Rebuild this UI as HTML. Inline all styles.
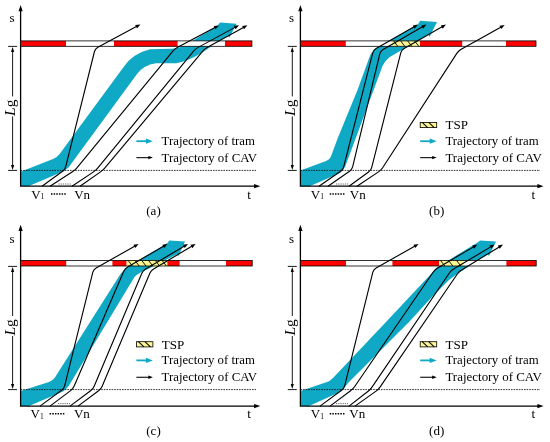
<!DOCTYPE html>
<html><head><meta charset="utf-8"><title>Figure</title>
<style>
html,body{margin:0;padding:0;background:#fff;}
svg{display:block;font-family:"Liberation Serif",serif;}
</style></head><body>
<svg width="550" height="442" viewBox="0 0 550 442">
<rect width="550" height="442" fill="#fff"/>
<path d="M20.6,171.7 L53,159 Q57,157.5 60,153.5 L124,66.5 Q133,53.5 150,49.3 L172,48.8 Q180,48.2 188,43.5 L217.5,25.8 L220,22.4 L236.6,23.8 L229.4,37.6 L227.6,35.6 L203,52 Q189,61 176,63.3 L156,63.2 Q143.5,65 137,74 L68.5,167.5 Q66.5,169.5 63,171.5 L29,186 L20.6,186 Z" fill="#10A9C5" stroke="none"/>
<path d="M20.60,8.00 L20.60,186.20 L257.30,186.20" fill="none" stroke="#000" stroke-width="1.3"/>
<polygon points="20.60,5.00 22.70,11.20 18.50,11.20" fill="#000"/>
<polygon points="260.30,186.20 254.10,188.30 254.10,184.10" fill="#000"/>
<rect x="20.60" y="40.90" width="231.30" height="5.40" fill="#fff" stroke="none"/>
<rect x="20.60" y="40.90" width="45.40" height="5.40" fill="#FF0000"/>
<rect x="114.00" y="40.90" width="63.60" height="5.40" fill="#FF0000"/>
<rect x="225.00" y="40.90" width="26.90" height="5.40" fill="#FF0000"/>
<rect x="20.60" y="40.90" width="231.30" height="5.40" fill="none" stroke="#000" stroke-width="0.8"/>
<line x1="20.60" y1="170.40" x2="256.00" y2="170.40" stroke="#000" stroke-width="0.8" stroke-dasharray="1.6,1"/>
<line x1="8.10" y1="46.40" x2="17.10" y2="46.40" stroke="#000" stroke-width="0.9"/>
<line x1="8.10" y1="170.40" x2="17.10" y2="170.40" stroke="#000" stroke-width="0.9"/>
<line x1="12.60" y1="49.40" x2="12.60" y2="96.40" stroke="#000" stroke-width="0.9"/>
<line x1="12.60" y1="116.40" x2="12.60" y2="167.40" stroke="#000" stroke-width="0.9"/>
<polygon points="12.60,46.90 14.20,51.90 11.00,51.90" fill="#000"/>
<polygon points="12.60,169.90 11.00,164.90 14.20,164.90" fill="#000"/>
<text transform="translate(15.10,107.80) rotate(-90)" font-size="15.5" text-anchor="middle"><tspan font-style="italic">L</tspan>g</text>
<path d="M42.00,186.20 L62.57,171.26 Q65.00,169.50 65.73,166.59 L94.47,51.51 Q95.20,48.60 97.84,47.18 L137.76,25.82" fill="none" stroke="#000" stroke-width="1.12" stroke-linejoin="round"/>
<polygon points="140.40,24.40 136.98,28.39 135.18,25.04" fill="#000"/>
<path d="M50.00,186.20 L72.47,171.82 Q75.00,170.20 76.91,167.88 L173.09,50.92 Q175.00,48.60 177.65,47.20 L216.35,26.80" fill="none" stroke="#000" stroke-width="1.12" stroke-linejoin="round"/>
<polygon points="219.00,25.40 215.55,29.37 213.78,26.00" fill="#000"/>
<path d="M72.00,186.20 L93.50,171.86 Q96.00,170.20 97.90,167.88 L193.60,51.12 Q195.50,48.80 198.14,47.37 L236.36,26.63" fill="none" stroke="#000" stroke-width="1.12" stroke-linejoin="round"/>
<polygon points="239.00,25.20 235.60,29.21 233.79,25.87" fill="#000"/>
<path d="M80.00,186.20 L100.54,171.91 Q103.00,170.20 104.93,167.90 L202.57,51.30 Q204.50,49.00 207.12,47.54 L244.78,26.66" fill="none" stroke="#000" stroke-width="1.12" stroke-linejoin="round"/>
<polygon points="247.40,25.20 244.04,29.24 242.19,25.92" fill="#000"/>
<text x="12.00" y="22.30" font-size="13" text-anchor="middle">s</text>
<text x="249.00" y="198.80" font-size="13" text-anchor="middle">t</text>
<text x="31.20" y="198.60" font-size="13">V<tspan font-size="7.5" dy="0.5">1</tspan></text>
<line x1="51.00" y1="194.00" x2="65.80" y2="194.00" stroke="#000" stroke-width="1.4" stroke-dasharray="1.5,1.15"/>
<text x="74.20" y="198.60" font-size="13">Vn</text>
<line x1="58.50" y1="184.00" x2="71.00" y2="184.00" stroke="#444" stroke-width="0.8" stroke-dasharray="1.2,1"/>
<line x1="136.40" y1="141.20" x2="146.40" y2="141.20" stroke="#10A9C5" stroke-width="1.8"/>
<polygon points="152.90,141.20 145.90,143.80 145.90,138.60" fill="#10A9C5"/>
<text x="161.60" y="144.50" font-size="13" text-anchor="start" textLength="93.30" lengthAdjust="spacingAndGlyphs">Trajectory of tram</text>
<line x1="136.40" y1="157.60" x2="149.40" y2="157.60" stroke="#222" stroke-width="1.25"/>
<polygon points="152.90,157.60 148.40,159.30 148.40,155.90" fill="#000"/>
<text x="161.60" y="161.70" font-size="13" text-anchor="start" textLength="95.50" lengthAdjust="spacingAndGlyphs">Trajectory of CAV</text>
<text x="153.50" y="215.20" font-size="13" text-anchor="middle">(a)</text>
<path d="M300.4,170.6 L326,161 Q330,159.5 331.3,155.5 L337.8,138 L357.5,90 L369.5,57 Q371.5,51 378,47 L417.5,25 L420.2,20.8 L437,22 L429.5,37 L428.3,34.6 L394,54.5 Q386,58.5 382.5,66 L346.5,163 Q344.5,170 339,173.5 L309,186.4 L300.4,186.4 Z" fill="#10A9C5" stroke="none"/>
<path d="M300.40,8.00 L300.40,186.20 L540.60,186.20" fill="none" stroke="#000" stroke-width="1.3"/>
<polygon points="300.40,5.00 302.50,11.20 298.30,11.20" fill="#000"/>
<polygon points="543.60,186.20 537.40,188.30 537.40,184.10" fill="#000"/>
<rect x="300.40" y="40.90" width="235.60" height="5.40" fill="#fff" stroke="none"/>
<rect x="300.40" y="40.90" width="45.40" height="5.40" fill="#FF0000"/>
<rect x="392.00" y="40.90" width="28.00" height="5.40" fill="#FBF593"/>
<line x1="393.60" y1="40.90" x2="397.80" y2="46.30" stroke="#000" stroke-width="0.9"/>
<line x1="400.60" y1="40.90" x2="404.80" y2="46.30" stroke="#000" stroke-width="0.9"/>
<line x1="407.60" y1="40.90" x2="411.80" y2="46.30" stroke="#000" stroke-width="0.9"/>
<line x1="414.60" y1="40.90" x2="418.80" y2="46.30" stroke="#000" stroke-width="0.9"/>
<rect x="420.00" y="40.90" width="42.20" height="5.40" fill="#FF0000"/>
<rect x="506.00" y="40.90" width="30.00" height="5.40" fill="#FF0000"/>
<rect x="300.40" y="40.90" width="235.60" height="5.40" fill="none" stroke="#000" stroke-width="0.8"/>
<line x1="300.40" y1="170.40" x2="540.00" y2="170.40" stroke="#000" stroke-width="0.8" stroke-dasharray="1.6,1"/>
<line x1="287.80" y1="46.40" x2="296.80" y2="46.40" stroke="#000" stroke-width="0.9"/>
<line x1="287.80" y1="170.40" x2="296.80" y2="170.40" stroke="#000" stroke-width="0.9"/>
<line x1="292.30" y1="49.40" x2="292.30" y2="96.40" stroke="#000" stroke-width="0.9"/>
<line x1="292.30" y1="116.40" x2="292.30" y2="167.40" stroke="#000" stroke-width="0.9"/>
<polygon points="292.30,46.90 293.90,51.90 290.70,51.90" fill="#000"/>
<polygon points="292.30,169.90 290.70,164.90 293.90,164.90" fill="#000"/>
<text transform="translate(294.80,107.80) rotate(-90)" font-size="15.5" text-anchor="middle"><tspan font-style="italic">L</tspan>g</text>
<path d="M319.00,186.20 L340.54,171.21 Q343.00,169.50 343.74,166.59 L372.76,52.91 Q373.50,50.00 376.11,48.51 L415.39,26.09" fill="none" stroke="#000" stroke-width="1.12" stroke-linejoin="round"/>
<polygon points="418.00,24.60 414.69,28.68 412.80,25.38" fill="#000"/>
<path d="M328.00,186.20 L349.54,171.21 Q352.00,169.50 352.70,166.58 L379.80,53.92 Q380.50,51.00 383.10,49.50 L423.80,26.10" fill="none" stroke="#000" stroke-width="1.12" stroke-linejoin="round"/>
<polygon points="426.40,24.60 423.10,28.69 421.21,25.40" fill="#000"/>
<path d="M349.00,186.20 L368.57,171.96 Q371.00,170.20 371.74,167.29 L400.76,52.91 Q401.50,50.00 404.11,48.51 L443.39,26.09" fill="none" stroke="#000" stroke-width="1.12" stroke-linejoin="round"/>
<polygon points="446.00,24.60 442.69,28.68 440.80,25.38" fill="#000"/>
<path d="M357.00,186.20 L378.50,171.86 Q381.00,170.20 382.63,167.68 L456.97,53.12 Q458.60,50.60 461.22,49.14 L502.08,26.46" fill="none" stroke="#000" stroke-width="1.12" stroke-linejoin="round"/>
<polygon points="504.70,25.00 501.34,29.04 499.49,25.72" fill="#000"/>
<text x="291.50" y="22.30" font-size="13" text-anchor="middle">s</text>
<text x="533.40" y="198.80" font-size="13" text-anchor="middle">t</text>
<text x="310.80" y="198.60" font-size="13">V<tspan font-size="7.5" dy="0.5">1</tspan></text>
<line x1="329.70" y1="194.00" x2="344.50" y2="194.00" stroke="#000" stroke-width="1.4" stroke-dasharray="1.5,1.15"/>
<text x="349.80" y="198.60" font-size="13">Vn</text>
<line x1="336.00" y1="184.00" x2="349.00" y2="184.00" stroke="#444" stroke-width="0.8" stroke-dasharray="1.2,1"/>
<rect x="420.20" y="122.40" width="16.5" height="5.2" fill="#FBF593" stroke="#000" stroke-width="0.8"/>
<line x1="422.20" y1="122.40" x2="427.70" y2="127.60" stroke="#000" stroke-width="1.05"/>
<line x1="428.70" y1="122.40" x2="434.20" y2="127.60" stroke="#000" stroke-width="1.05"/>
<text x="445.60" y="129.20" font-size="13" text-anchor="start" textLength="22.40" lengthAdjust="spacingAndGlyphs">TSP</text>
<line x1="420.20" y1="141.20" x2="430.20" y2="141.20" stroke="#10A9C5" stroke-width="1.8"/>
<polygon points="436.70,141.20 429.70,143.80 429.70,138.60" fill="#10A9C5"/>
<text x="445.40" y="144.50" font-size="13" text-anchor="start" textLength="93.30" lengthAdjust="spacingAndGlyphs">Trajectory of tram</text>
<line x1="420.20" y1="157.60" x2="433.20" y2="157.60" stroke="#222" stroke-width="1.25"/>
<polygon points="436.70,157.60 432.20,159.30 432.20,155.90" fill="#000"/>
<text x="445.40" y="161.70" font-size="13" text-anchor="start" textLength="96.50" lengthAdjust="spacingAndGlyphs">Trajectory of CAV</text>
<text x="436.70" y="215.20" font-size="13" text-anchor="middle">(b)</text>
<path d="M20.6,391 L49,382 Q54,380 56.5,375 L120.5,274 Q124,269.5 129,266 L167.5,243 L169.2,240.4 L185,241.5 L178.4,256 L177,254.3 L147,269.5 Q138,273 134.5,277 L69,385.5 Q67,388.5 63,391.5 L29,406.1 L20.6,406.1 Z" fill="#10A9C5" stroke="none"/>
<path d="M20.60,227.80 L20.60,406.10 L257.30,406.10" fill="none" stroke="#000" stroke-width="1.3"/>
<polygon points="20.60,224.80 22.70,231.00 18.50,231.00" fill="#000"/>
<polygon points="260.30,406.10 254.10,408.20 254.10,404.00" fill="#000"/>
<rect x="20.60" y="260.50" width="231.60" height="5.50" fill="#fff" stroke="none"/>
<rect x="20.60" y="260.50" width="45.60" height="5.50" fill="#FF0000"/>
<rect x="112.40" y="260.50" width="14.20" height="5.50" fill="#FF0000"/>
<rect x="126.60" y="260.50" width="40.80" height="5.50" fill="#FBF593"/>
<line x1="128.20" y1="260.50" x2="132.40" y2="266.00" stroke="#000" stroke-width="0.9"/>
<line x1="135.00" y1="260.50" x2="139.20" y2="266.00" stroke="#000" stroke-width="0.9"/>
<line x1="141.80" y1="260.50" x2="146.00" y2="266.00" stroke="#000" stroke-width="0.9"/>
<line x1="148.60" y1="260.50" x2="152.80" y2="266.00" stroke="#000" stroke-width="0.9"/>
<line x1="155.40" y1="260.50" x2="159.60" y2="266.00" stroke="#000" stroke-width="0.9"/>
<line x1="162.20" y1="260.50" x2="166.40" y2="266.00" stroke="#000" stroke-width="0.9"/>
<rect x="167.40" y="260.50" width="12.20" height="5.50" fill="#FF0000"/>
<rect x="226.00" y="260.50" width="26.20" height="5.50" fill="#FF0000"/>
<rect x="20.60" y="260.50" width="231.60" height="5.50" fill="none" stroke="#000" stroke-width="0.8"/>
<line x1="20.60" y1="389.60" x2="256.00" y2="389.60" stroke="#000" stroke-width="0.8" stroke-dasharray="1.6,1"/>
<line x1="8.10" y1="266.40" x2="17.10" y2="266.40" stroke="#000" stroke-width="0.9"/>
<line x1="8.10" y1="389.60" x2="17.10" y2="389.60" stroke="#000" stroke-width="0.9"/>
<line x1="12.60" y1="269.40" x2="12.60" y2="316.00" stroke="#000" stroke-width="0.9"/>
<line x1="12.60" y1="336.00" x2="12.60" y2="386.60" stroke="#000" stroke-width="0.9"/>
<polygon points="12.60,266.90 14.20,271.90 11.00,271.90" fill="#000"/>
<polygon points="12.60,389.10 11.00,384.10 14.20,384.10" fill="#000"/>
<text transform="translate(15.10,327.40) rotate(-90)" font-size="15.5" text-anchor="middle"><tspan font-style="italic">L</tspan>g</text>
<path d="M40.00,406.10 L61.58,390.27 Q64.00,388.50 64.72,385.59 L92.78,272.41 Q93.50,269.50 96.11,268.02 L135.99,245.48" fill="none" stroke="#000" stroke-width="1.12" stroke-linejoin="round"/>
<polygon points="138.60,244.00 135.27,248.07 133.40,244.76" fill="#000"/>
<path d="M50.00,406.10 L70.60,390.60 Q73.00,388.80 74.19,386.05 L123.81,271.25 Q125.00,268.50 127.60,267.00 L164.90,245.50" fill="none" stroke="#000" stroke-width="1.12" stroke-linejoin="round"/>
<polygon points="167.50,244.00 164.20,248.09 162.31,244.80" fill="#000"/>
<path d="M70.00,406.10 L90.59,390.79 Q93.00,389.00 94.17,386.24 L141.83,273.26 Q143.00,270.50 145.59,268.98 L185.41,245.52" fill="none" stroke="#000" stroke-width="1.12" stroke-linejoin="round"/>
<polygon points="188.00,244.00 184.74,248.12 182.81,244.85" fill="#000"/>
<path d="M78.00,406.10 L98.59,390.79 Q101.00,389.00 102.17,386.24 L149.83,273.26 Q151.00,270.50 153.58,268.97 L193.02,245.53" fill="none" stroke="#000" stroke-width="1.12" stroke-linejoin="round"/>
<polygon points="195.60,244.00 192.36,248.14 190.42,244.87" fill="#000"/>
<text x="12.00" y="243.00" font-size="13" text-anchor="middle">s</text>
<text x="249.00" y="418.30" font-size="13" text-anchor="middle">t</text>
<text x="30.60" y="418.30" font-size="13">V<tspan font-size="7.5" dy="0.5">1</tspan></text>
<line x1="49.60" y1="413.70" x2="64.40" y2="413.70" stroke="#000" stroke-width="1.4" stroke-dasharray="1.5,1.15"/>
<text x="73.90" y="418.30" font-size="13">Vn</text>
<line x1="58.00" y1="403.60" x2="70.00" y2="403.60" stroke="#444" stroke-width="0.8" stroke-dasharray="1.2,1"/>
<rect x="136.40" y="341.70" width="16.5" height="5.2" fill="#FBF593" stroke="#000" stroke-width="0.8"/>
<line x1="138.40" y1="341.70" x2="143.90" y2="346.90" stroke="#000" stroke-width="1.05"/>
<line x1="144.90" y1="341.70" x2="150.40" y2="346.90" stroke="#000" stroke-width="1.05"/>
<text x="161.80" y="348.50" font-size="13" text-anchor="start" textLength="22.40" lengthAdjust="spacingAndGlyphs">TSP</text>
<line x1="136.40" y1="360.40" x2="146.40" y2="360.40" stroke="#10A9C5" stroke-width="1.8"/>
<polygon points="152.90,360.40 145.90,363.00 145.90,357.80" fill="#10A9C5"/>
<text x="161.60" y="363.70" font-size="13" text-anchor="start" textLength="93.30" lengthAdjust="spacingAndGlyphs">Trajectory of tram</text>
<line x1="136.40" y1="377.30" x2="149.40" y2="377.30" stroke="#222" stroke-width="1.25"/>
<polygon points="152.90,377.30 148.40,379.00 148.40,375.60" fill="#000"/>
<text x="161.60" y="381.40" font-size="13" text-anchor="start" textLength="95.50" lengthAdjust="spacingAndGlyphs">Trajectory of CAV</text>
<text x="153.50" y="435.00" font-size="13" text-anchor="middle">(c)</text>
<path d="M300.4,391 L327,382 Q330,381 333,378 L386,322 L430.5,274.5 L437,267.5 L455,256.2 L478,242.2 L480.1,240.4 L496,241.6 L489,256 L487.6,254 L461,271.5 Q455,275 449,280 L431,298 L409.5,321.5 L390.5,340.5 L348,383 Q344.5,388.5 340,392 L309,406.1 L300.4,406.1 Z" fill="#10A9C5" stroke="none"/>
<path d="M300.40,227.80 L300.40,406.10 L540.60,406.10" fill="none" stroke="#000" stroke-width="1.3"/>
<polygon points="300.40,224.80 302.50,231.00 298.30,231.00" fill="#000"/>
<polygon points="543.60,406.10 537.40,408.20 537.40,404.00" fill="#000"/>
<rect x="300.40" y="260.50" width="235.80" height="5.50" fill="#fff" stroke="none"/>
<rect x="300.40" y="260.50" width="45.60" height="5.50" fill="#FF0000"/>
<rect x="392.40" y="260.50" width="46.60" height="5.50" fill="#FF0000"/>
<rect x="439.00" y="260.50" width="24.00" height="5.50" fill="#FBF593"/>
<line x1="440.60" y1="260.50" x2="444.80" y2="266.00" stroke="#000" stroke-width="0.9"/>
<line x1="448.60" y1="260.50" x2="452.80" y2="266.00" stroke="#000" stroke-width="0.9"/>
<line x1="456.60" y1="260.50" x2="460.80" y2="266.00" stroke="#000" stroke-width="0.9"/>
<rect x="506.40" y="260.50" width="29.80" height="5.50" fill="#FF0000"/>
<rect x="300.40" y="260.50" width="235.80" height="5.50" fill="none" stroke="#000" stroke-width="0.8"/>
<line x1="300.40" y1="389.60" x2="540.00" y2="389.60" stroke="#000" stroke-width="0.8" stroke-dasharray="1.6,1"/>
<line x1="287.80" y1="266.40" x2="296.80" y2="266.40" stroke="#000" stroke-width="0.9"/>
<line x1="287.80" y1="389.60" x2="296.80" y2="389.60" stroke="#000" stroke-width="0.9"/>
<line x1="292.30" y1="269.40" x2="292.30" y2="316.00" stroke="#000" stroke-width="0.9"/>
<line x1="292.30" y1="336.00" x2="292.30" y2="386.60" stroke="#000" stroke-width="0.9"/>
<polygon points="292.30,266.90 293.90,271.90 290.70,271.90" fill="#000"/>
<polygon points="292.30,389.10 290.70,384.10 293.90,384.10" fill="#000"/>
<text transform="translate(294.80,327.40) rotate(-90)" font-size="15.5" text-anchor="middle"><tspan font-style="italic">L</tspan>g</text>
<path d="M320.00,406.10 L341.58,390.27 Q344.00,388.50 344.72,385.59 L372.78,272.41 Q373.50,269.50 376.11,268.02 L415.99,245.48" fill="none" stroke="#000" stroke-width="1.12" stroke-linejoin="round"/>
<polygon points="418.60,244.00 415.27,248.07 413.40,244.76" fill="#000"/>
<path d="M330.00,406.10 L350.59,390.79 Q353.00,389.00 354.70,386.53 L433.30,271.97 Q435.00,269.50 437.59,267.98 L474.81,246.12" fill="none" stroke="#000" stroke-width="1.12" stroke-linejoin="round"/>
<polygon points="477.40,244.60 474.14,248.72 472.21,245.44" fill="#000"/>
<path d="M349.00,406.10 L368.13,391.24 Q370.50,389.40 372.18,386.92 L449.32,272.98 Q451.00,270.50 453.58,268.97 L492.02,246.13" fill="none" stroke="#000" stroke-width="1.12" stroke-linejoin="round"/>
<polygon points="494.60,244.60 491.36,248.74 489.42,245.47" fill="#000"/>
<path d="M355.00,406.10 L376.05,391.14 Q378.50,389.40 380.19,386.92 L457.31,273.98 Q459.00,271.50 461.56,269.94 L500.44,246.16" fill="none" stroke="#000" stroke-width="1.12" stroke-linejoin="round"/>
<polygon points="503.00,244.60 499.81,248.78 497.83,245.53" fill="#000"/>
<text x="291.50" y="243.00" font-size="13" text-anchor="middle">s</text>
<text x="533.40" y="418.30" font-size="13" text-anchor="middle">t</text>
<text x="310.80" y="418.30" font-size="13">V<tspan font-size="7.5" dy="0.5">1</tspan></text>
<line x1="329.70" y1="413.70" x2="344.50" y2="413.70" stroke="#000" stroke-width="1.4" stroke-dasharray="1.5,1.15"/>
<text x="349.30" y="418.30" font-size="13">Vn</text>
<line x1="336.00" y1="403.60" x2="348.00" y2="403.60" stroke="#444" stroke-width="0.8" stroke-dasharray="1.2,1"/>
<rect x="420.20" y="341.70" width="16.5" height="5.2" fill="#FBF593" stroke="#000" stroke-width="0.8"/>
<line x1="422.20" y1="341.70" x2="427.70" y2="346.90" stroke="#000" stroke-width="1.05"/>
<line x1="428.70" y1="341.70" x2="434.20" y2="346.90" stroke="#000" stroke-width="1.05"/>
<text x="445.60" y="348.50" font-size="13" text-anchor="start" textLength="22.40" lengthAdjust="spacingAndGlyphs">TSP</text>
<line x1="420.20" y1="360.40" x2="430.20" y2="360.40" stroke="#10A9C5" stroke-width="1.8"/>
<polygon points="436.70,360.40 429.70,363.00 429.70,357.80" fill="#10A9C5"/>
<text x="445.40" y="363.70" font-size="13" text-anchor="start" textLength="93.30" lengthAdjust="spacingAndGlyphs">Trajectory of tram</text>
<line x1="420.20" y1="377.30" x2="433.20" y2="377.30" stroke="#222" stroke-width="1.25"/>
<polygon points="436.70,377.30 432.20,379.00 432.20,375.60" fill="#000"/>
<text x="445.40" y="381.40" font-size="13" text-anchor="start" textLength="96.50" lengthAdjust="spacingAndGlyphs">Trajectory of CAV</text>
<text x="436.70" y="435.00" font-size="13" text-anchor="middle">(d)</text>
</svg>
</body></html>
